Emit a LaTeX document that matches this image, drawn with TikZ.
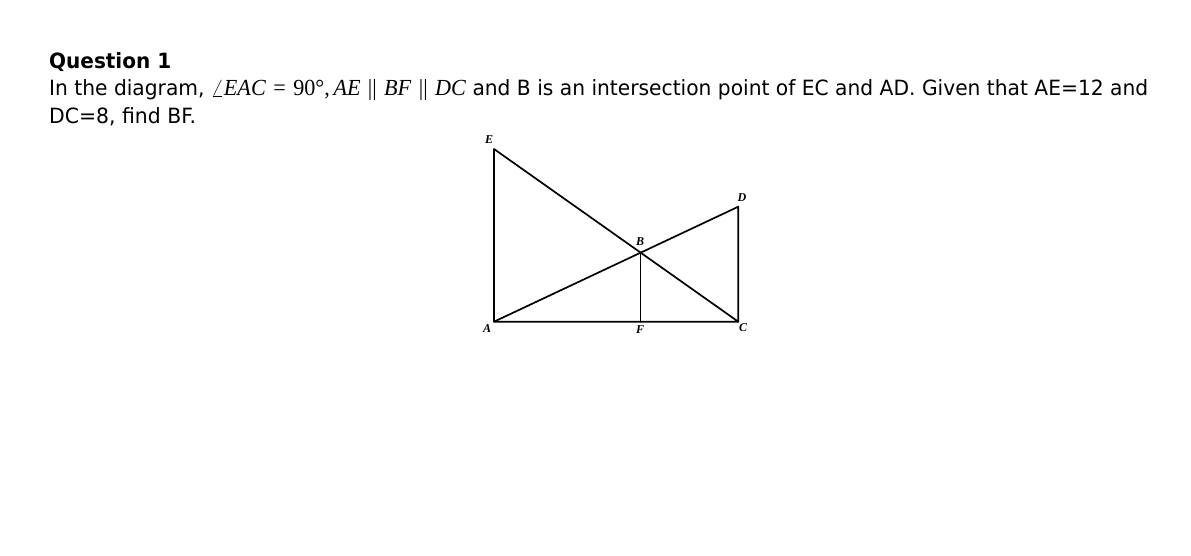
\documentclass[tikz,border=0pt]{standalone}
\usepackage{fontspec}
\setmainfont{DejaVu Sans}
\newfontfamily\mserif{Liberation Serif}
\usepackage{graphicx}
\begin{document}
\begin{tikzpicture}[x=1pt,y=-1pt,
  seg/.style={line width=1.7pt, line cap=round, line join=round},
  lbl/.style={font=\mserif\bfseries\itshape\fontsize{12}{12}\selectfont, inner sep=0pt},
  txt/.style={anchor=base west, inner sep=0pt}]
\useasboundingbox[fill=white] (0,0) rectangle (1191,556);
\node[txt] (q) at (49,69) {\resizebox{122pt}{\height}{\fontsize{21}{24}\selectfont\bfseries Question 1}};
\node[txt] (l2) at (49,96) {\resizebox{1099pt}{\height}{\fontsize{21}{24}\selectfont In the diagram, {\mserif\fontsize{23}{24}\selectfont$\angle$\textit{EAC}\,\,=\,\,90°,\,\textit{AE}\,\,||\,\,\textit{BF}\,\,||\,\,\textit{DC}} and B is an intersection point of EC and AD. Given that AE=12 and}};
\node[txt] (l3) at (49,124) {\resizebox{147pt}{\height}{\fontsize{21}{24}\selectfont DC=8, find BF.}};
\coordinate (A) at (494,321.7);
\coordinate (E) at (494,149);
\coordinate (C) at (738.3,321.7);
\coordinate (D) at (738.3,206.7);
\coordinate (B) at (640.6,252.6);
\coordinate (F) at (640.6,321.7);
\draw[seg] (A) -- (E) -- (C) -- cycle;
\draw[seg] (A) -- (D) -- (C);
\draw[seg] (B) -- (F);
\node[lbl] (lE) at (489,140) {E};
\node[lbl] (lD) at (742,198) {D};
\node[lbl] (lB) at (640,242) {B};
\node[lbl] (lA) at (487,329) {A};
\node[lbl] (lF) at (640,330) {F};
\node[lbl] (lC) at (743,328) {C};
\end{tikzpicture}
\end{document}
